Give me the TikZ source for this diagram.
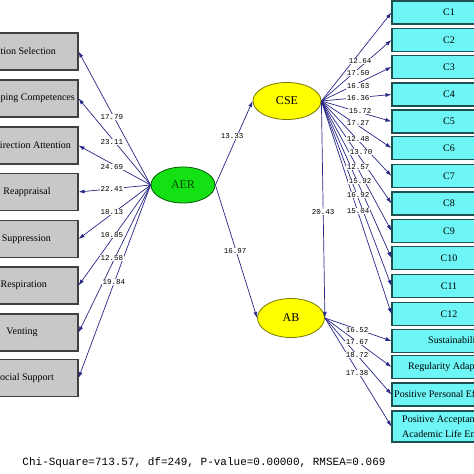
\documentclass[tikz,border=0pt]{standalone}
\usepackage{fontspec}
\setmainfont{Liberation Serif}
\newfontfamily\monof{Liberation Mono}
\usetikzlibrary{arrows.meta,shapes.geometric}
\definecolor{navyline}{RGB}{40,40,135}
\definecolor{boxgray}{RGB}{200,200,200}
\definecolor{boxcyan}{RGB}{110,245,245}
\definecolor{cyanborder}{RGB}{30,80,80}
\definecolor{aergreen}{RGB}{20,225,20}
\definecolor{aerborder}{RGB}{0,90,0}
\definecolor{abyellow}{RGB}{255,255,0}
\definecolor{abborder}{RGB}{120,120,0}
\tikzset{
  leftbox/.style={draw=black!75, line width=1.1pt, fill=boxgray, minimum width=110pt, minimum height=37pt, inner sep=0pt},
  rightbox/.style={draw=cyanborder, line width=1.1pt, fill=boxcyan, minimum width=130pt, minimum height=23pt, inner sep=0pt},
  boxtext/.style={font=\fontsize{10}{11}\selectfont, inner sep=0pt},
  latent/.style={ellipse, draw, line width=0.8pt, inner sep=0pt, font=\fontsize{12}{13}\selectfont},
  arr/.style={draw=navyline, line width=0.7pt, -{Latex[length=6pt,width=4pt]}},
  coef/.style={font=\monof\fontsize{7.5}{8}\selectfont, fill=white, inner sep=0.6pt},
}
\begin{document}
\begin{tikzpicture}[x=1pt,y=-1pt]
\useasboundingbox (0,0) rectangle (474,474);
\clip (0,0) rectangle (474,474);
\fill[white] (0,0) rectangle (474,474);
% left boxes
\node[leftbox] (l1) at (23,51.5) {};
\node[leftbox] (l2) at (23,98.5) {};
\node[leftbox] (l3) at (23,145.5) {};
\node[leftbox] (l4) at (23,192) {};
\node[leftbox] (l5) at (23,239) {};
\node[leftbox] (l6) at (23,285.5) {};
\node[leftbox] (l7) at (23,332.5) {};
\node[leftbox] (l8) at (23,378) {};
\node[boxtext, anchor=east] (t1) at (56,51.5) {Situation Selection};
\node[boxtext, anchor=east] (t2) at (75,98.5) {Coping Competences};
\node[boxtext, anchor=east] (t3) at (71,145.5) {Redirection Attention};
\node[boxtext] (t4) at (27,192) {Reappraisal};
\node[boxtext, anchor=east] (t5) at (51,239) {Suppression};
\node[boxtext, anchor=east] (t6) at (47,285.5) {Respiration};
\node[boxtext] (t7) at (22,332.5) {Venting};
\node[boxtext, anchor=east] (t8) at (54,378) {Social Support};
% right boxes
\node[rightbox] (c1) at (457,12.5) {};
\node[rightbox] (c2) at (457,40) {};
\node[rightbox] (c3) at (457,67) {};
\node[rightbox] (c4) at (457,94.5) {};
\node[rightbox] (c5) at (457,121.5) {};
\node[rightbox] (c6) at (457,148) {};
\node[rightbox] (c7) at (457,176) {};
\node[rightbox] (c8) at (457,203.5) {};
\node[rightbox] (c9) at (457,231) {};
\node[rightbox] (c10) at (457,258) {};
\node[rightbox] (c11) at (457,286) {};
\node[rightbox] (c12) at (457,314) {};
\node[rightbox] (r1) at (457,341) {};
\node[rightbox] (r2) at (457,367) {};
\node[rightbox] (r3) at (457,394.5) {};
\node[rightbox, minimum height=31pt] (r4) at (457,426.5) {};
\node[boxtext] (tc1) at (449,12.5) {C1};
\node[boxtext] (tc2) at (449,40) {C2};
\node[boxtext] (tc3) at (449,67) {C3};
\node[boxtext] (tc4) at (449,94.5) {C4};
\node[boxtext] (tc5) at (449,121.5) {C5};
\node[boxtext] (tc6) at (449,148) {C6};
\node[boxtext] (tc7) at (449,176) {C7};
\node[boxtext] (tc8) at (449,203.5) {C8};
\node[boxtext] (tc9) at (449,231) {C9};
\node[boxtext] (tc10) at (449,258) {C10};
\node[boxtext] (tc11) at (449,286) {C11};
\node[boxtext] (tc12) at (449,314) {C12};
\node[boxtext, anchor=west] (tr1) at (428,341) {Sustainability};
\node[boxtext, anchor=west] (tr2) at (408,367) {Regularity Adaptation};
\node[boxtext, anchor=west] (tr3) at (394,394.5) {Positive Personal Effectiveness};
\node[boxtext, anchor=west, align=left, font=\fontsize{10}{15}\selectfont] (tr4) at (402,426.5) {Positive Acceptance of\\Academic Life Emotions};
% latent variables
\node[latent, fill=aergreen, draw=aerborder, text=aerborder!80!black, minimum width=64pt, minimum height=36pt] (aer) at (183,185) {AER};
\node[latent, fill=abyellow, draw=abborder, minimum width=68pt, minimum height=37pt] (cse) at (287,101) {CSE};
\node[latent, fill=abyellow, draw=abborder, minimum width=67pt, minimum height=39pt] (ab) at (291,318) {AB};
% connectors
\foreach \b in {l1,l2,l3,l4,l5,l6,l7,l8} \draw[arr] (aer.west) -- (\b.east);
\draw[arr] (aer.east) -- (cse.west);
\draw[arr] (aer.east) -- (ab.west);
\draw[arr] (cse.east) -- (ab.east);
\foreach \b in {c1,c2,c3,c4,c5,c6,c7,c8,c9,c10,c11,c12} \draw[arr] (cse.east) -- (\b.west);
\foreach \b in {r1,r2,r3,r4} \draw[arr] (ab.east) -- (\b.west);
% coefficients
\node[coef] (k1) at (112,117) {17.79};
\node[coef] (k2) at (112,142) {23.11};
\node[coef] (k3) at (112,167) {24.69};
\node[coef] (k4) at (112,189) {22.41};
\node[coef] (k5) at (112,212) {18.13};
\node[coef] (k6) at (112,235) {10.85};
\node[coef] (k7) at (112,258) {12.58};
\node[coef] (k8) at (114,282) {19.84};
\node[coef] (g1) at (232,136) {13.33};
\node[coef] (g2) at (235,251) {16.97};
\node[coef] (g3) at (323,212) {20.43};
\node[coef] (m1) at (360,61) {12.64};
\node[coef] (m2) at (358,73) {17.50};
\node[coef] (m3) at (358,86) {16.63};
\node[coef] (m4) at (358,98) {16.36};
\node[coef] (m5) at (360,111) {15.72};
\node[coef] (m6) at (358,123) {17.27};
\node[coef] (m7) at (358,139) {12.48};
\node[coef] (m8) at (361,152) {13.70};
\node[coef] (m9) at (358,167) {12.57};
\node[coef] (m10) at (360,181) {15.92};
\node[coef] (m11) at (358,195) {16.92};
\node[coef] (m12) at (358,211) {15.04};
\node[coef] (n1) at (357,330) {16.52};
\node[coef] (n2) at (357,342) {17.67};
\node[coef] (n3) at (357,355) {18.72};
\node[coef] (n4) at (357,373) {17.38};
% fit statistics
\node[font=\monof\fontsize{11}{12}\selectfont, inner sep=0pt] (fit) at (204,463) {Chi-Square=713.57, df=249, P-value=0.00000, RMSEA=0.069};
\end{tikzpicture}
\end{document}
